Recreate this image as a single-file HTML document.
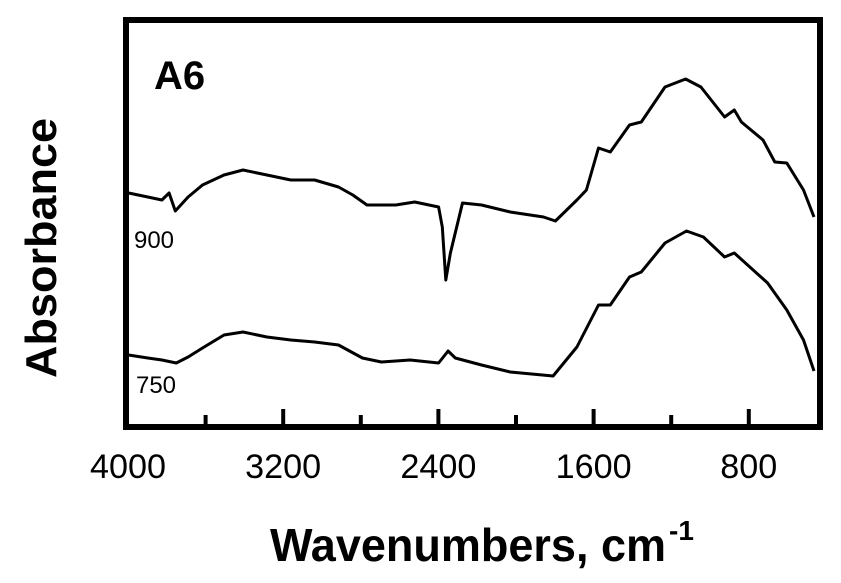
<!DOCTYPE html>
<html><head><meta charset="utf-8"><style>
html,body{margin:0;padding:0;background:#fff;}
svg{display:block;}
text{font-family:"Liberation Sans",Arial,sans-serif;fill:#000;}
</style></head><body>
<svg id="chart" width="841" height="583" viewBox="0 0 841 583" xmlns="http://www.w3.org/2000/svg">
<rect x="0" y="0" width="841" height="583" fill="#fff"/>
<g id="series"></g>
<g id="ticks"></g>
<rect x="126" y="20" width="694" height="407" fill="none" stroke="#000" stroke-width="6"/>
<text x="154" y="89" font-size="40" font-weight="bold">A6</text>
<text x="134" y="248" font-size="24" textLength="40" lengthAdjust="spacingAndGlyphs">900</text>
<text x="136" y="393" font-size="24" textLength="40" lengthAdjust="spacingAndGlyphs">750</text>
<text transform="translate(56,378) rotate(-90)" font-size="44" font-weight="bold" textLength="260" lengthAdjust="spacingAndGlyphs">Absorbance</text>
<text x="270" y="561" font-size="46" font-weight="bold" textLength="396" lengthAdjust="spacingAndGlyphs">Wavenumbers, cm</text>
<text x="669" y="540" font-size="28" font-weight="bold">-1</text>
</svg>
<script>
const tickValues = [4000, 3200, 2400, 1600, 800];
const minorTicks = [3600, 2800, 2000, 1200];
const tickLabels = ["4000", "3200", "2400", "1600", "800"];
const wn900 = [3997,3898,3825,3788,3756,3690,3616,3505,3407,3284,3161,3038,2915,2841,2768,2620,2522,2399,2380,2362,2338,2276,2178,2030,1858,1797,1686,1637,1575,1514,1415,1354,1232,1126,1047,925,875,838,727,666,604,518,464];
const abs900 = [234,230,227,234,216,230,242,252,257,252,247,247,240,232,222,222,225,220,200,147,174,224,222,215,210,206,227,237,279,275,302,305,340,348,340,310,317,305,287,265,264,237,210];
const wn750 = [3997,3898,3825,3751,3690,3616,3505,3407,3284,3161,3038,2915,2792,2694,2546,2399,2350,2313,2178,2030,1809,1686,1575,1514,1415,1354,1232,1121,1034,925,875,703,604,518,464];
const abs750 = [72,69,67,64,70,79,92,95,90,87,85,82,69,65,67,64,76,69,62,55,51,80,122,122,150,155,184,196,190,170,174,144,117,87,56];

const NS = "http://www.w3.org/2000/svg";
function xScale(w){ return 128 + (4000 - w) * 0.194; }
function yScale(v){ return 427 - v; }

const ticksG = document.getElementById('ticks');
tickValues.forEach((t, i) => {
  const x = xScale(t);
  if (i > 0) {
    const l = document.createElementNS(NS, 'line');
    l.setAttribute('x1', x); l.setAttribute('x2', x);
    l.setAttribute('y1', 427); l.setAttribute('y2', 409);
    l.setAttribute('stroke', '#000'); l.setAttribute('stroke-width', 4);
    
    
    ticksG.appendChild(l);
  }
  const tx = document.createElementNS(NS, 'text');
  tx.setAttribute('x', x); tx.setAttribute('y', 478);
  tx.setAttribute('text-anchor', 'middle');
  tx.setAttribute('font-size', '34');
  tx.setAttribute('textLength', tickLabels[i].length * 19);
  tx.setAttribute('lengthAdjust', 'spacingAndGlyphs');
  tx.textContent = tickLabels[i];
  
  
  ticksG.appendChild(tx);
});
minorTicks.forEach(t => {
  const x = xScale(t);
  const l = document.createElementNS(NS, 'line');
  l.setAttribute('x1', x); l.setAttribute('x2', x);
  l.setAttribute('y1', 427); l.setAttribute('y2', 415);
  l.setAttribute('stroke', '#000'); l.setAttribute('stroke-width', 4);
  
  
  ticksG.appendChild(l);
});

const seriesG = document.getElementById('series');
function drawLine(wn, vals, name){
  const d = wn.map((w, i) => (i ? 'L' : 'M') + xScale(w).toFixed(1) + ',' + yScale(vals[i]).toFixed(1)).join(' ');
  const p = document.createElementNS(NS, 'path');
  p.setAttribute('d', d);
  p.setAttribute('fill', 'none');
  p.setAttribute('stroke', '#000');
  p.setAttribute('stroke-width', 3);
  p.setAttribute('stroke-linejoin', 'round');
  
  
  seriesG.appendChild(p);
}
drawLine(wn900, abs900, 'spectrum-900');
drawLine(wn750, abs750, 'spectrum-750');
</script>
</body></html>
